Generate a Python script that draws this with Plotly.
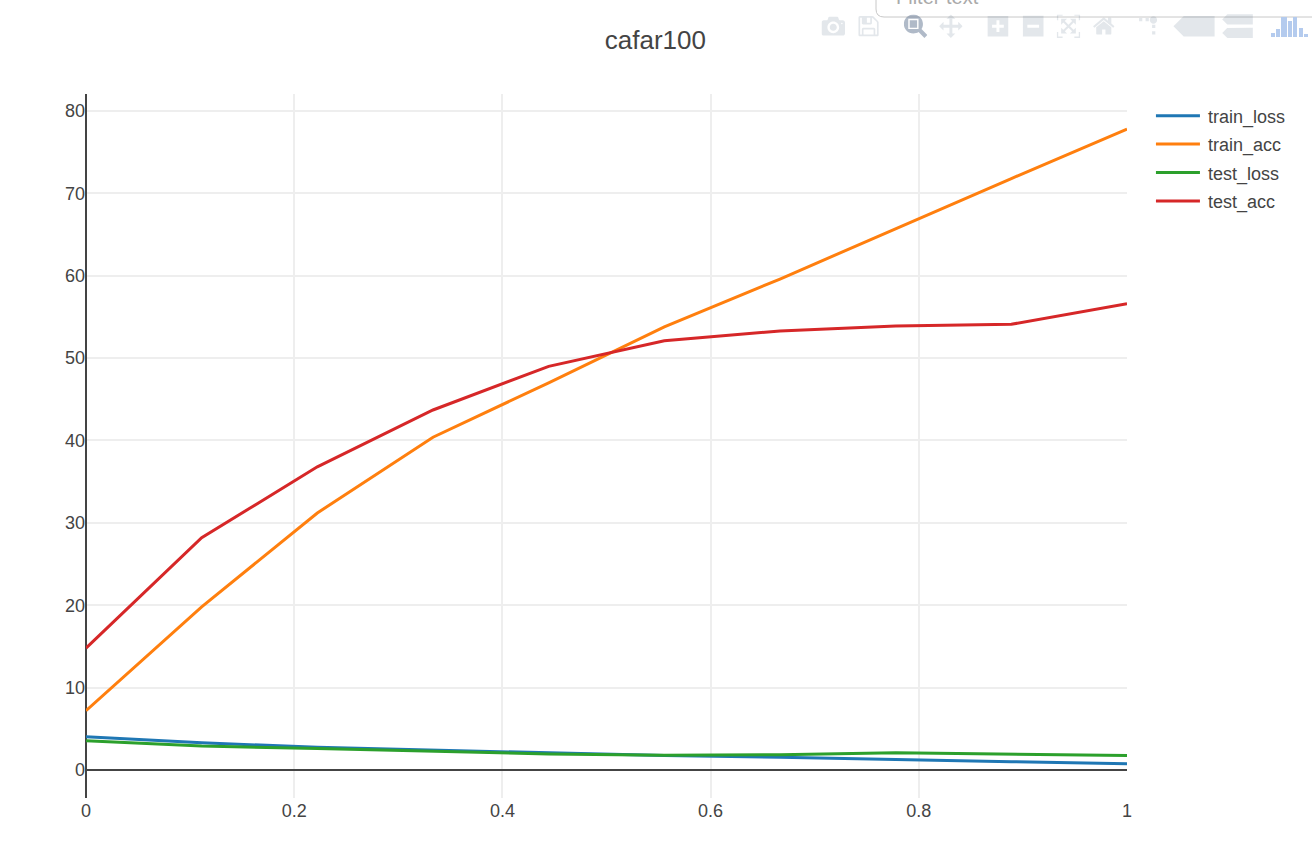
import plotly.graph_objects as go

x_vals = [0, 1/9, 2/9, 3/9, 4/9, 5/9, 6/9, 7/9, 8/9, 1]
train_loss = [4.05, 3.3, 2.75, 2.4, 2.05, 1.75, 1.55, 1.25, 1.0, 0.75]
train_acc = [7.2, 19.8, 31.2, 40.4, 47.0, 53.8, 59.6, 65.7, 71.8, 77.8]
test_loss = [3.55, 2.9, 2.6, 2.3, 1.95, 1.8, 1.85, 2.1, 1.95, 1.75]
test_acc = [14.8, 28.2, 36.8, 43.7, 49.0, 52.1, 53.3, 53.9, 54.1, 56.6]

series = [
    ("train_loss", train_loss, "#1f77b4"),
    ("train_acc", train_acc, "#ff7f0e"),
    ("test_loss", test_loss, "#2ca02c"),
    ("test_acc", test_acc, "#d62728"),
]

W, H = 1312, 868
L, T, PW, PH = 86, 94, 1041, 704


def px(x):
    return (x - L) / PW


def py(y):
    return 1 - (y - T) / PH


fig = go.Figure()
for name, vals, color in series:
    fig.add_trace(go.Scatter(x=x_vals, y=vals, mode="lines", name=name, legendgroup=name,
                             line=dict(color=color, width=3)))

# rounded filter box poking in from the top edge of the page
box_path = (f"M {px(876)} {py(-5)} L {px(876)} {py(9)} Q {px(876)} {py(17)} {px(884)} {py(17)} "
            f"L {px(1320)} {py(17)} L {px(1320)} {py(-5)} Z")
shapes = [dict(type="path", path=box_path, xref="paper", yref="paper", layer="above",
               line=dict(color="#c8c8c8", width=1), fillcolor="white")]

# faded bar logo at the end of the toolbar
logo_bars = [(1271, 1275, 33), (1276, 1280, 29), (1281, 1287, 17), (1288, 1292, 21),
             (1293, 1297, 17), (1299, 1303, 28), (1304, 1308, 34)]
for x0, x1, top in logo_bars:
    shapes.append(dict(type="rect", xref="paper", yref="paper", layer="above",
                       x0=px(x0), x1=px(x1), y0=py(37), y1=py(top),
                       line=dict(width=0), fillcolor="#b4cbee"))

fig.update_layout(
    template=None,
    width=W, height=H,
    margin=dict(l=L, r=W - L - PW, t=T, b=H - T - PH),
    paper_bgcolor="white", plot_bgcolor="white",
    font=dict(family="Liberation Sans, Arial, sans-serif", size=18, color="#444"),
    title=dict(text="cafar100", x=0.4995, xanchor="center", y=0.954, yanchor="middle",
               font=dict(size=26)),
    legend=dict(x=1.023, y=0.995, xanchor="left", yanchor="top", font=dict(size=18),
                itemwidth=44, tracegroupgap=2),
    xaxis=dict(range=[0, 1], tickvals=[0, 0.2, 0.4, 0.6, 0.8, 1],
               ticktext=["0", "0.2", "0.4", "0.6", "0.8", "1"],
               showgrid=True, gridcolor="#eee", gridwidth=1.5,
               zeroline=True, zerolinecolor="#444", zerolinewidth=2, showline=False),
    yaxis=dict(range=[-3.4, 82.06], tickvals=[0, 10, 20, 30, 40, 50, 60, 70, 80],
               showgrid=True, gridcolor="#eee", gridwidth=1.5,
               zeroline=True, zerolinecolor="#444", zerolinewidth=2, showline=False),
    shapes=shapes,
    annotations=[dict(text="Filter text", xref="paper", yref="paper", showarrow=False,
                      x=px(894), y=py(-3), xanchor="left", yanchor="middle",
                      font=dict(size=20, color="#aaa"))],
    modebar=dict(bgcolor="rgba(0,0,0,0)", color="rgba(80,103,132,0.16)",
                 activecolor="rgba(80,103,132,0.45)"),
)

post = """
document.body.style.margin = '0';
document.body.style.overflow = 'hidden';
var mb = document.querySelector('.modebar');
if (mb) { mb.style.transformOrigin = 'right top'; mb.style.transform = 'scale(1.47)';
          mb.style.top = '10px'; mb.style.right = '73px'; }
var hv = document.querySelectorAll('.modebar-btn[data-attr="hovermode"]');
var dx = [5.4, 11];
var sc = [1.75, 1.3];
hv.forEach(function (b, i) {
    var s = b.querySelector('svg');
    s.style.overflow = 'visible';
    s.style.transform = 'translate(' + dx[i] + 'px,0) scale(' + sc[i] + ')';
    b.querySelectorAll('path').forEach(function (p) {
        p.style.setProperty('fill', 'rgba(80,103,132,0.16)', 'important');
    });
});
document.querySelectorAll('.legendtext').forEach(function (t) {
    t.setAttribute('x', parseFloat(t.getAttribute('x')) + 3);
});
"""

fig.write_html("out.html", post_script=post,
               config=dict(displayModeBar=True, showSendToCloud=True, displaylogo=False,
                           responsive=False,
                           modeBarButtonsToAdd=["togglespikelines", "hoverclosest",
                                                "hovercompare"]))
